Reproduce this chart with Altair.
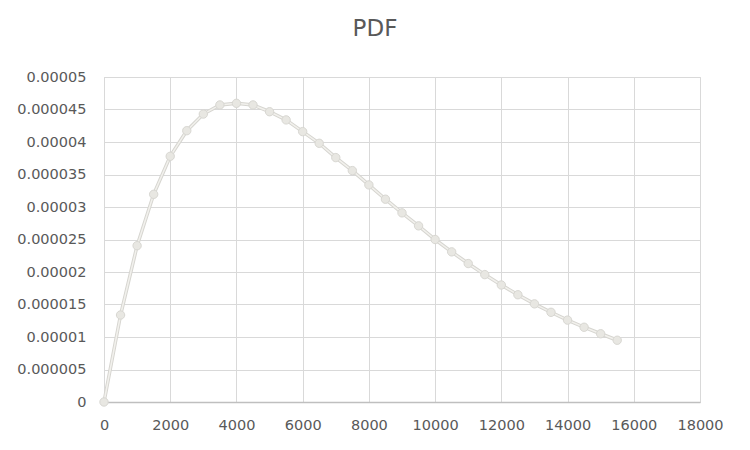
import altair as alt
import pandas as pd

x_values = [0, 500, 1000, 1500, 2000, 2500, 3000, 3500, 4000, 4500, 5000, 5500,
            6000, 6500, 7000, 7500, 8000, 8500, 9000, 9500, 10000, 10500, 11000,
            11500, 12000, 12500, 13000, 13500, 14000, 14500, 15000, 15500]
pdf_values = [0.0, 1.338e-5, 2.405e-5, 3.195e-5, 3.78e-5, 4.174e-5, 4.43e-5, 4.57e-5,
              4.595e-5, 4.57e-5, 4.466e-5, 4.34e-5, 4.16e-5, 3.98e-5, 3.76e-5, 3.56e-5,
              3.34e-5, 3.12e-5, 2.91e-5, 2.71e-5, 2.50e-5, 2.31e-5, 2.13e-5, 1.96e-5,
              1.80e-5, 1.65e-5, 1.51e-5, 1.38e-5, 1.26e-5, 1.15e-5, 1.05e-5, 0.95e-5]
x_ticks = [0, 2000, 4000, 6000, 8000, 10000, 12000, 14000, 16000, 18000]
y_ticks = [0, 0.000005, 0.00001, 0.000015, 0.00002, 0.000025, 0.00003,
           0.000035, 0.00004, 0.000045, 0.00005]

df = pd.DataFrame({"x": x_values, "pdf": pdf_values})

FONT = "DejaVu Sans"
LABEL = "#595959"
GRID = "#D9D9D9"

xenc = alt.X("x:Q", scale=alt.Scale(domain=[0, 18000], nice=False, zero=True),
             axis=alt.Axis(values=x_ticks, format="d", title=None, grid=True,
                           gridColor=GRID, gridWidth=1, domain=True,
                           domainColor="#BFBFBF", domainWidth=1.5, ticks=False,
                           labelPadding=16, labelFontSize=14.5, labelColor=LABEL,
                           labelFont=FONT, labelOverlap=False, labelFlush=False,
                           labelBound=False))
yenc = alt.Y("pdf:Q", scale=alt.Scale(domain=[0, 0.00005], nice=False),
             axis=alt.Axis(values=y_ticks, format=".6~f", title=None, grid=True,
                           gridColor=GRID, gridWidth=1, domain=True,
                           domainColor=GRID, domainWidth=1, ticks=False,
                           labelPadding=18, labelFontSize=14.5, labelColor=LABEL,
                           labelFont=FONT, labelOverlap=False, labelFlush=False,
                           labelBound=False))

base = alt.Chart(df).encode(x=xenc, y=yenc)

outer = base.mark_line(color="#D6D5D0", strokeWidth=3.5)
inner = base.mark_line(color="#F2F1ED", strokeWidth=1.5)
pts = base.mark_point(filled=True, size=70, fill="#E8E7E2", stroke="#D8D7D2",
                      strokeWidth=1, opacity=1)

chart = alt.layer(outer, inner, pts).properties(
    width=596, height=325,
    title=alt.TitleParams("PDF", fontSize=23, font=FONT, color=LABEL,
                          fontWeight="normal", offset=28, dx=-27),
    autosize=alt.AutoSizeParams(type="none"),
    padding={"left": 96, "top": 69, "right": 30, "bottom": 40},
).configure_view(stroke=None).configure(background="white")

chart.save("out.html", embed_options={"renderer": "svg", "actions": False})
